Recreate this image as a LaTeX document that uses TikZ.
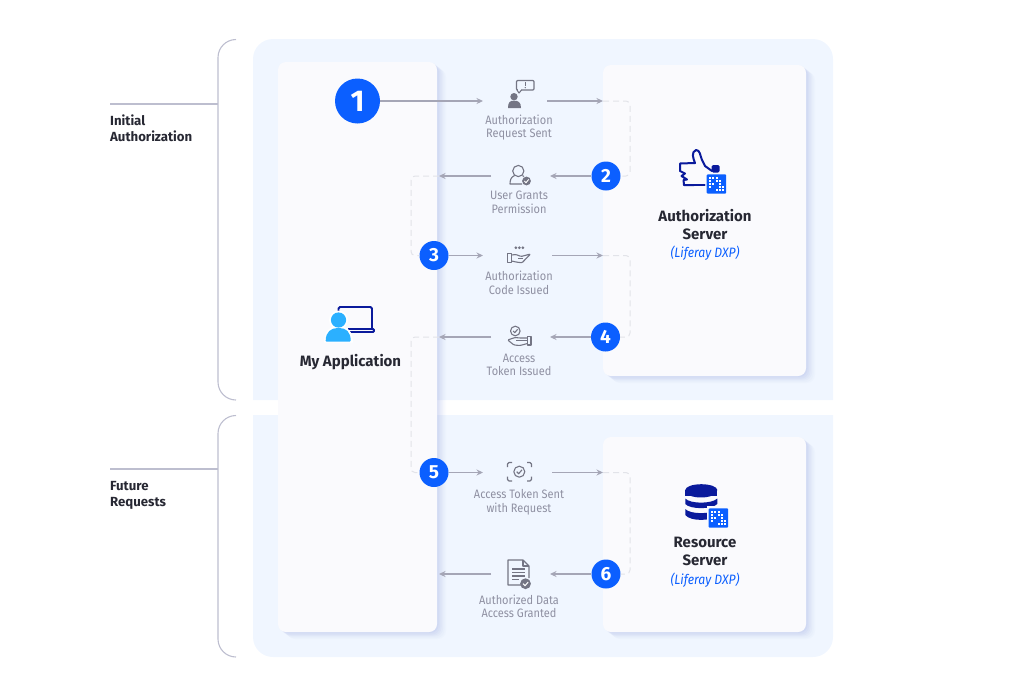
\documentclass[tikz,border=0pt]{standalone}
\usepackage{fontspec}
\setmainfont{Fira Sans}
\newfontfamily\narrowfont{Fira Sans}[FakeStretch=0.9]
\usetikzlibrary{arrows.meta,shadows}
\definecolor{panelblue}{HTML}{F0F6FF}
\definecolor{cardgray}{HTML}{FAFAFD}
\definecolor{shadowblue}{HTML}{B4BFEA}
\definecolor{stepblue}{HTML}{0B5FFF}
\definecolor{navyblue}{HTML}{0A1A9C}
\definecolor{skyblue}{HTML}{2BB0FF}
\definecolor{labelgray}{HTML}{8F90A2}
\definecolor{arrowgray}{HTML}{A5A6B6}
\definecolor{bracegray}{HTML}{BDBECF}
\definecolor{dashgray}{HTML}{E2E3E9}
\definecolor{titledark}{HTML}{272833}
\definecolor{icongray}{HTML}{747584}
\tikzset{pics/gridbox/.style = {code = {
      \fill [stepblue, rounded corners = 1] (0, 0) rectangle (19.4, 19.4);
      \foreach \c/\r in {0/0, 1/0, 2/0, 0/1, 2/1, 3/1, 0/2, 1/2, 3/2, 0/3, 3/3, 4/3, 2/4, 3/4, 4/4}
        \fill [white] (2.6 + 3.1*\c, 2.6 + 3.1*\r) rectangle +(2, 2);
    }}}
\begin{document}
\begin{tikzpicture}[x = 1pt, y = -1pt,
    panel/.style = {fill = panelblue},
    card/.style = {rectangle, fill = cardgray, rounded corners = 8, inner sep = 0,
      general shadow = {shadow xshift = 9pt, shadow yshift = -7pt, fill = shadowblue, opacity = 0.05},
      general shadow = {shadow xshift = 7.5pt, shadow yshift = -6pt, fill = shadowblue, opacity = 0.07},
      general shadow = {shadow xshift = 6pt, shadow yshift = -4.5pt, fill = shadowblue, opacity = 0.09},
      general shadow = {shadow xshift = 4.5pt, shadow yshift = -3.5pt, fill = shadowblue, opacity = 0.11},
      general shadow = {shadow xshift = 3pt, shadow yshift = -2.5pt, fill = shadowblue, opacity = 0.14},
      general shadow = {shadow xshift = 1.5pt, shadow yshift = -1pt, fill = shadowblue, opacity = 0.18}},
    stepbig/.style = {circle, fill = stepblue, text = white, inner sep = 0, minimum size = 45,
      font = \fontsize{30}{30}\selectfont\bfseries},
    stepsmall/.style = {circle, fill = stepblue, text = white, inner sep = 0, minimum size = 29,
      font = \fontsize{19}{19}\selectfont\bfseries},
    flow/.style = {draw = arrowgray, line width = 1.4, -{Stealth[length = 6.5, width = 6]}},
    elbow/.style = {draw = dashgray, line width = 1, dash pattern = on 6 off 4, rounded corners = 4},
    brace/.style = {draw = bracegray, line width = 1.1, rounded corners = 18},
    tick/.style = {draw = bracegray, line width = 1.1},
    rowlabel/.style = {align = center, text = labelgray, inner sep = 0,
      font = \narrowfont\fontsize{12.2}{13.6}\selectfont},
    sidelabel/.style = {align = left, anchor = west, text = titledark, inner sep = 0,
      font = \fontsize{13.2}{16.2}\selectfont\bfseries},
    title/.style = {align = center, text = titledark, inner sep = 0,
      font = \fontsize{15}{18.6}\selectfont\bfseries},
    liferay/.style = {text = stepblue, inner sep = 0,
      font = \narrowfont\fontsize{13.6}{14}\selectfont\itshape},
    iconline/.style = {draw = icongray, line width = 1.1, line join = round},
    navyline/.style = {draw = navyblue, line width = 2, line join = round}]
  \useasboundingbox (0, 0) rectangle (1024, 697);

  \fill [panel] (253, 400) [rounded corners = 20] -- (253, 39) -- (833, 39) [sharp corners] -- (833, 400) -- cycle;
  \fill [panel] (253, 415) -- (833, 415) [rounded corners = 20] -- (833, 657) -- (253, 657) [sharp corners] -- cycle;

  \draw [brace] (236, 39.5) -- (218, 39.5) -- (218, 400) -- (236, 400);
  \draw [brace] (236, 415.5) -- (218, 415.5) -- (218, 657) -- (236, 657);
  \coordinate (t1a) at (110, 104);
  \coordinate (t1b) at (218, 104);
  \coordinate (t2a) at (110, 469);
  \coordinate (t2b) at (218, 469);
  \draw [tick] (t1a) -- (t1b);
  \draw [tick] (t2a) -- (t2b);
  \node [sidelabel] (initial) at (110, 128){Initial\\Authorization};
  \node [sidelabel] (future) at (110, 495){Future\\Requests};

  \node [card, minimum width = 159, minimum height = 570] (app) at (357.5, 347){};
  \node [card, minimum width = 203, minimum height = 311] (authsrv) at (704.5, 220.5){};
  \node [card, minimum width = 203, minimum height = 195] (ressrv) at (704.5, 534.5){};

  \node [stepbig] (n1) at (357.5, 101){1};
  \node [stepsmall] (n2) at (606, 176){2};
  \node [stepsmall] (n3) at (434, 255.5){3};
  \node [stepsmall] (n4) at (605.5, 337){4};
  \node [stepsmall] (n5) at (434, 472.5){5};
  \node [stepsmall] (n6) at (606, 574){6};

  \coordinate (a1) at (483, 101);
  \coordinate (b1) at (547, 101);
  \coordinate (c1) at (603, 101);
  \coordinate (a2) at (550, 176);
  \coordinate (b2) at (491, 176);
  \coordinate (c2) at (439, 176);
  \coordinate (a3) at (483, 255.5);
  \coordinate (b3) at (552, 255.5);
  \coordinate (c3) at (603, 255.5);
  \coordinate (a4) at (550, 337);
  \coordinate (b4) at (491, 337);
  \coordinate (c4) at (439, 337);
  \coordinate (a5) at (483, 472.5);
  \coordinate (b5) at (552, 472.5);
  \coordinate (c5) at (603, 472.5);
  \coordinate (a6) at (550, 574);
  \coordinate (b6) at (491, 574);
  \coordinate (c6) at (439, 574);

  \coordinate (k1) at (630, 101);
  \coordinate (k2) at (630, 176);
  \coordinate (k3) at (411, 176);
  \coordinate (k4) at (411, 255.5);
  \coordinate (k5) at (630, 255.5);
  \coordinate (k6) at (630, 337);
  \coordinate (k7) at (411, 337);
  \coordinate (k8) at (411, 472.5);
  \coordinate (k9) at (630, 472.5);
  \coordinate (k10) at (630, 574);

  \draw [elbow] (c1) -- (k1) -- (k2) -- (n2);
  \draw [elbow] (c2) -- (k3) -- (k4) -- (n3);
  \draw [elbow] (c3) -- (k5) -- (k6) -- (n4);
  \draw [elbow] (c4) -- (k7) -- (k8) -- (n5);
  \draw [elbow] (c5) -- (k9) -- (k10) -- (n6);

  \draw [flow] (n1) -- (a1);
  \draw [flow] (b1) -- (c1);
  \draw [flow] (n2) -- (a2);
  \draw [flow] (b2) -- (c2);
  \draw [flow] (n3) -- (a3);
  \draw [flow] (b3) -- (c3);
  \draw [flow] (n4) -- (a4);
  \draw [flow] (b4) -- (c4);
  \draw [flow] (n5) -- (a5);
  \draw [flow] (b5) -- (c5);
  \draw [flow] (n6) -- (a6);
  \draw [flow] (b6) -- (c6);

  \node [rowlabel] (l1) at (519, 127.5){Authorization\\Request Sent};
  \node [rowlabel] (l2) at (519, 202){User Grants\\Permission};
  \node [rowlabel] (l3) at (519, 283){Authorization\\Code Issued};
  \node [rowlabel] (l4) at (519, 365){Access\\Token Issued};
  \node [rowlabel] (l5) at (519, 502){Access Token Sent\\with Request};
  \node [rowlabel] (l6) at (519, 606.5){Authorized Data\\Access Granted};

  \node [title] (apptitle) at (350.5, 362){My Application};
  \node [title] (authtitle) at (705, 224.5){Authorization\\Server};
  \node [liferay] (authsub) at (705, 253.5){(Liferay DXP)};
  \node [title] (restitle) at (705, 551.5){Resource\\Server};
  \node [liferay] (ressub) at (705, 580){(Liferay DXP)};

  \draw [iconline, rounded corners = 1] (516.5, 80.5) rectangle (534, 90);
  \fill [panelblue] (517.5, 89) rectangle (520.5, 91);
  \draw [iconline] (517, 90) -- (519, 93) -- (521.5, 90);
  \fill [icongray] (524.6, 82) rectangle (525.8, 86.2);
  \fill [icongray] (525.2, 87.6) circle (0.7);
  \fill [icongray] (514, 96.7) circle (3.7);
  \fill [icongray] (508, 108) .. controls (508, 102) and (510, 100.7) .. (514, 100.7)
    .. controls (518, 100.7) and (521, 102) .. (521, 108) -- cycle;

  \draw [iconline] (518.3, 171) circle (5.6);
  \draw [iconline] (514.6, 175.5) .. controls (511, 177) and (510, 180) .. (510, 184) -- (522, 184);
  \draw [iconline] (522.5, 175.6) -- (524, 176.5);
  \fill [icongray] (526.5, 181) circle (4.4);
  \draw [white, line width = 0.9] (524.4, 181) -- (526, 182.7) -- (528.7, 179.4);

  \draw [iconline] (507.7, 253.5) rectangle (511.7, 262.8);
  \draw [iconline, rounded corners = 1] (511.7, 255) -- (516, 254.5) -- (521, 256.5) -- (530.5, 254)
    -- (522, 262.8) -- (516, 262) -- (511.7, 261);
  \draw [iconline] (518, 258.7) -- (523, 258.7);
  \foreach \x in {515.8, 519.3, 522.8}
    \fill [icongray] (\x, 247.7) circle (1.5);

  \draw [iconline] (515.3, 331) circle (4.8);
  \draw [iconline] (513.2, 331) -- (514.8, 332.6) -- (517.6, 329.3);
  \draw [iconline] (527.5, 336.5) rectangle (531, 345);
  \draw [iconline, rounded corners = 1] (527.5, 338) -- (520, 338) -- (515, 337.5) -- (507.7, 340)
    -- (514, 345) -- (520, 345.5) -- (527.5, 343.5);
  \draw [iconline] (516, 340.7) -- (527.5, 340.7);

  \draw [iconline, rounded corners = 1.5] (507.5, 467) -- (507.5, 462.5) -- (512, 462.5);
  \draw [iconline, rounded corners = 1.5] (527, 462.5) -- (531.5, 462.5) -- (531.5, 467);
  \draw [iconline, rounded corners = 1.5] (507.5, 476.5) -- (507.5, 481) -- (512, 481);
  \draw [iconline, rounded corners = 1.5] (527, 481) -- (531.5, 481) -- (531.5, 476.5);
  \draw [iconline] (519.3, 471.7) circle (5.5);
  \draw [iconline] (516.7, 471.7) -- (518.7, 473.7) -- (522, 469.8);

  \draw [iconline] (521, 585) -- (508, 585) -- (508, 560) -- (523, 560) -- (529, 566) -- (529, 578);
  \draw [iconline] (523, 560) -- (523, 566) -- (529, 566);
  \foreach \y in {569, 572.5, 576}
    \draw [iconline] (512, \y) -- (525, \y);
  \draw [iconline] (512, 579.5) -- (519, 579.5);
  \fill [icongray] (525.5, 583.7) circle (5.4);
  \draw [white, line width = 1] (523, 583.7) -- (525, 585.7) -- (528.2, 582);

  \draw [navyblue, line width = 1.8, rounded corners = 1.5] (338.5, 320) -- (338.5, 307) -- (372, 307) -- (372, 328.5);
  \draw [navyblue, line width = 1.8, rounded corners = 1] (348, 329) -- (374, 329) -- (374, 332) -- (350, 332);
  \fill [white] (338.5, 320) circle (9.5);
  \fill [white] (324, 342.5) .. controls (324, 331) and (330, 326) .. (338.5, 326)
    .. controls (347, 326) and (353, 331) .. (353, 342.5) -- cycle;
  \fill [skyblue] (338.5, 320) circle (7.6);
  \fill [skyblue, rounded corners = 1] (325.7, 341.7) .. controls (325.7, 332) and (331, 328) .. (338.5, 328)
    .. controls (346, 328) and (350.7, 332) .. (350.7, 341.7) -- cycle;

  \draw [navyline, line cap = round] (694, 185) -- (684, 185) -- (683.5, 180) -- (687, 179.5)
    -- (681.5, 176) -- (685, 173.5) -- (680, 171) -- (680, 163.5) -- (695, 163)
    .. controls (693, 158) and (691, 152) .. (696, 150) .. controls (700, 150) and (700, 155) .. (702, 160)
    -- (705, 166) -- (712, 171);
  \draw [navyline, line cap = round] (684, 185) -- (704.5, 185);
  \fill [navyblue, rounded corners = 1.5] (711.5, 165) rectangle (719.5, 172.5);
  \pic at (706.7, 174.3) {gridbox};

  \fill [navyblue] (685.3, 490) rectangle (717.3, 496);
  \fill [navyblue] (701.3, 490) ellipse (16 and 5.8);
  \fill [navyblue] (685.3, 490) .. controls (685.3, 500) and (717.3, 500) .. (717.3, 490) -- cycle;
  \fill [navyblue] (685.3, 498.5) .. controls (690, 504) and (712, 504) .. (717.3, 498.5) -- (717.3, 504)
    .. controls (712, 509.5) and (690, 509.5) .. (685.3, 504) -- cycle;
  \fill [navyblue] (685.3, 509) .. controls (690, 514.5) and (712, 514.5) .. (717.3, 509) -- (717.3, 515)
    .. controls (712, 521.5) and (690, 521.5) .. (685.3, 515) -- cycle;
  \fill [cardgray] (706.7, 506.3) rectangle (730, 529.7);
  \pic at (708.7, 508.3) {gridbox};
\end{tikzpicture}
\end{document}
